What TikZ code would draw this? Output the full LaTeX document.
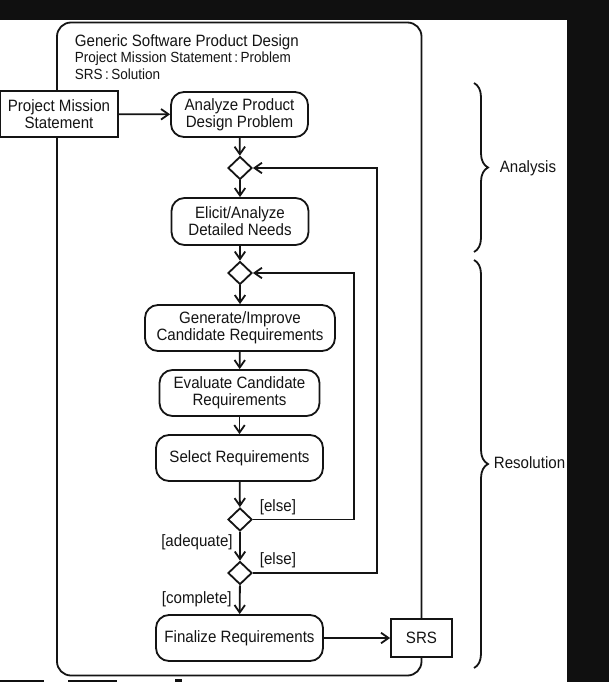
\documentclass[tikz,border=0pt]{standalone}
\usepackage{fontspec}
\setmainfont[FakeStretch=0.92]{Liberation Sans}
\usetikzlibrary{shapes.geometric,arrows.meta,decorations.pathreplacing}
\definecolor{darkbg}{RGB}{16,16,16}
\definecolor{ink}{RGB}{20,20,20}
\begin{document}
\begin{tikzpicture}[x=1pt,y=-1pt,line width=1.8pt,
  txt/.style={font=\fontsize{16.4}{17}\selectfont, text=ink},
  act/.style={txt, draw=ink, rounded corners=13pt, minimum height=46pt, align=center, inner sep=0pt, fill=white},
  obj/.style={txt, draw=ink, rectangle, align=center, inner sep=0pt, fill=white},
  dec/.style={draw=ink, diamond, minimum width=24pt, minimum height=23pt, inner sep=0pt, fill=white},
  flow/.style={draw=ink, -{Straight Barb[length=7.5pt,width=10.5pt]}},
  lbl/.style={txt, inner sep=0pt},
  sub/.style={font=\fontsize{14.7}{15}\selectfont, text=ink, inner sep=0pt},
  brc/.style={draw=ink, decorate, decoration={brace, amplitude=14pt}}
]
\useasboundingbox (0,0) rectangle (609,682);
\fill[white] (0,0) rectangle (609,682);

% frame
\node[draw=ink, rounded corners=14pt, minimum width=364.5pt, minimum height=653pt, inner sep=0pt] (frame) at (239.25,349) {};

% header texts
\node[lbl, anchor=west] (title) at (74,42) {Generic Software Product Design};
\node[sub, anchor=west] (prob) at (74,58.5) {Project Mission Statement\,:\,Problem};
\node[sub, anchor=west] (sol) at (74,74.5) {SRS\,:\,Solution};

% nodes
\node[obj, minimum width=118pt, minimum height=46pt] (pms) at (59,114) {Project Mission\\Statement};
\node[act, minimum width=137pt, minimum height=45pt] (analyze) at (239.5,114.5) {Analyze Product\\Design Problem};
\node[dec] (d1) at (240,168) {};
\node[act, minimum width=137pt, minimum height=47pt] (elicit) at (240,221.5) {Elicit/Analyze\\Detailed Needs};
\node[dec] (d2) at (240,273) {};
\node[act, minimum width=190pt] (gen) at (240,328) {Generate/Improve\\Candidate Requirements};
\node[act, minimum width=160pt] (eval) at (239.5,393) {Evaluate Candidate\\Requirements};
\node[act, minimum width=167pt] (sel) at (239.5,458) {Select Requirements};
\node[dec] (d3) at (240,519.5) {};
\node[dec] (d4) at (240,573) {};
\node[act, minimum width=167pt] (fin) at (239.5,638) {Finalize Requirements};
\node[obj, minimum width=61pt, minimum height=38pt] (srs) at (421.5,638) {SRS};

% connectors
\draw[flow] (pms) -- (analyze);
\draw[flow] (analyze) -- (d1);
\draw[flow] (d1) -- (elicit);
\draw[flow] (elicit) -- (d2);
\draw[flow] (d2) -- (gen);
\draw[flow] (gen) -- (eval);
\draw[flow] (eval) -- (sel);
\draw[flow] (sel) -- (d3);
\draw[flow] (d3) -- (d4);
\draw[flow] (d4) -- (fin);
\draw[flow] (fin) -- (srs);
\draw[flow] (d3.east) -- ++(101,0) |- (d2.east);
\draw[flow] (d4.east) -- ++(124,0) |- (d1.east);

% guard labels
\node[lbl, anchor=west] (else1) at (259,507) {[else]};
\node[lbl, anchor=east] (adeq) at (233.5,542) {[adequate]};
\node[lbl, anchor=west] (else2) at (259,560.5) {[else]};
\node[lbl, anchor=east] (compl) at (232.5,599) {[complete]};

% braces
\coordinate (a1) at (474,83);
\coordinate (a2) at (474,252);
\coordinate (r1) at (474,260);
\coordinate (r2) at (474,668);
\draw[brc] (a1) -- (a2);
\draw[brc] (r1) -- (r2);
\node[lbl, anchor=west] (analysis) at (499,168) {Analysis};
\node[lbl, anchor=west] (resol) at (493,463) {Resolution};

% dark surround
\fill[darkbg] (0,0) rectangle (609,20.5);
\fill[darkbg] (567,0) rectangle (609,682);
\fill[darkbg] (0,679.5) rectangle (44,682);
\fill[darkbg] (68,679.5) rectangle (117,682);
\fill[darkbg] (175,679) rectangle (182,682);
\end{tikzpicture}
\end{document}
